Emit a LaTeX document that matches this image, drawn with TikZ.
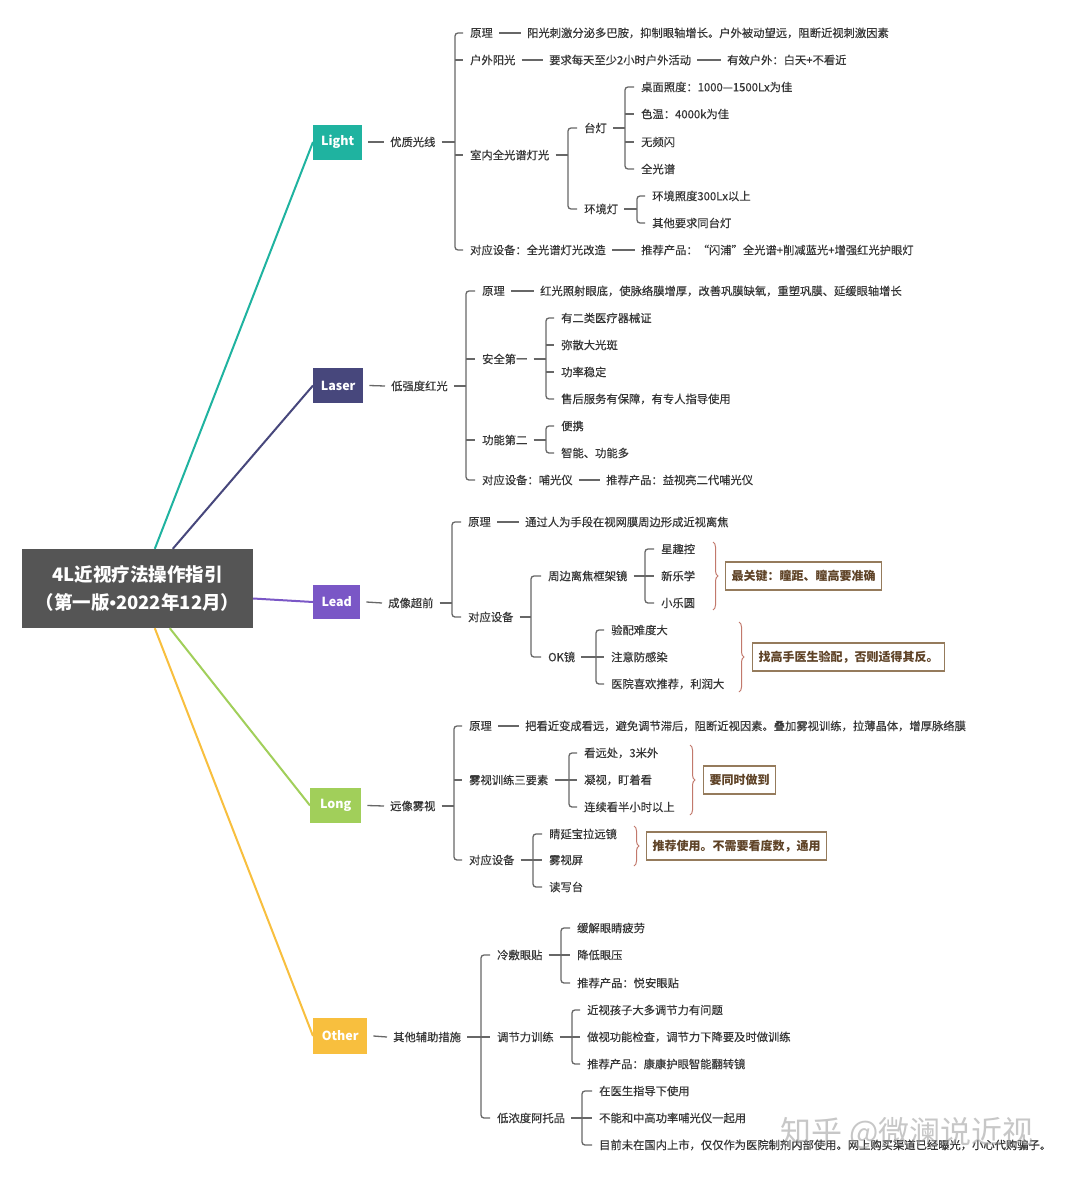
\documentclass[tikz,border=0pt]{standalone}
\usepackage{fontspec}
\setmainfont{Noto Sans CJK SC}
\newfontfamily\cjkmed[FakeBold=0.35]{Noto Sans CJK SC}
\newfontfamily\latbul{Liberation Sans}
\usetikzlibrary{decorations.pathreplacing}
\definecolor{txt}{HTML}{363636}
\definecolor{ln}{HTML}{676767}
\definecolor{rootc}{HTML}{555555}
\definecolor{cLight}{HTML}{1FB3A0}
\definecolor{cLaser}{HTML}{47477C}
\definecolor{cLead}{HTML}{7A57C6}
\definecolor{cLong}{HTML}{A1CF5A}
\definecolor{cOther}{HTML}{F8BF3E}
\definecolor{brc}{HTML}{C2796C}
\definecolor{notebd}{HTML}{957B5C}
\definecolor{notetx}{HTML}{5E4226}
\tikzset{
 tx/.style={anchor=west, inner sep=0pt, text=txt, font=\cjkmed\fontsize{11.3}{13}\selectfont},
 conn/.style={draw=ln, line width=1.3pt},
 cat/.style={anchor=west, minimum height=35pt, inner sep=0pt, text=white, font=\fontsize{12.5}{14}\selectfont\bfseries},
 brc/.style={draw=brc, line width=1pt, decorate, decoration={brace, amplitude=5pt}},
 note/.style={anchor=west, draw=notebd, line width=1.3pt, fill=white, minimum height=28pt, inner xsep=6pt, inner ysep=0pt, text=notetx, font=\fontsize{12}{14}\selectfont\bfseries},
 trunk/.style={line width=2pt},
}
\newcommand\mylnk[2]{\draw[conn] ([xshift=6pt]#1.east) -- ([xshift=-6pt]#2.west);}
\newcommand\mybrk[5]{%
 \draw[conn] ([xshift=6pt]#1.east) -- (#2,0 |- #1.east);
 \draw[conn, rounded corners=3pt] ([xshift=-7pt]#3.west) -- (#2,0 |- #3.west) -- (#2,0 |- #4.west) -- ([xshift=-7pt]#4.west);
 \foreach \nd in {#5} {\draw[conn] (#2,0 |- \nd.west) -- ([xshift=-7pt]\nd.west);}
}
\newcommand\mybrkk[4]{%
 \draw[conn] ([xshift=6pt]#1.east) -- (#2,0 |- #1.east);
 \draw[conn, rounded corners=3pt] ([xshift=-7pt]#3.west) -- (#2,0 |- #3.west) -- (#2,0 |- #4.west) -- ([xshift=-7pt]#4.west);
}
\begin{document}
\begin{tikzpicture}[x=1pt, y=-1pt]
\fill[white] (0,0) rectangle (1080,1178);
\useasboundingbox (0,0) rectangle (1080,1178);

% root
\node[fill=rootc, minimum width=231pt, minimum height=79pt, inner sep=0pt, text=white, align=center,
      font=\fontsize{18.5}{28}\selectfont\bfseries] (root) at (137.5,588.5)
      {4L近视疗法操作指引\\（第一版{\latbul\bfseries •}2022年12月）};

% category boxes
\node[cat, fill=cLight, minimum width=49pt] (light) at (313,142) {Light};
\node[cat, fill=cLaser, minimum width=50pt] (laser) at (313,385.5) {Laser};
\node[cat, fill=cLead, minimum width=47pt, minimum height=34pt] (lead) at (313,602) {Lead};
\node[cat, fill=cLong, minimum width=51pt] (long) at (310,805.5) {Long};
\node[cat, fill=cOther, minimum width=54pt, minimum height=36pt] (other) at (313,1036) {Other};

\draw[trunk, draw=cLight] ([xshift=133pt]root.north west) -- (light.west);
\draw[trunk, draw=cLaser] ([xshift=151pt]root.north west) -- (laser.west);
\draw[trunk, draw=cLead] ([yshift=-10pt]root.east) -- (lead.west);
\draw[trunk, draw=cLong] ([xshift=148pt]root.south west) -- (long.west);
\draw[trunk, draw=cOther] ([xshift=133pt]root.south west) -- (other.west);

% ===== Light =====
\node[tx] (l1) at (390,142) {优质光线};
\mylnk{light}{l1}
\node[tx] (la) at (470,33) {原理};
\node[tx] (la2) at (527,33) {阳光刺激分泌多巴胺，抑制眼轴增长。户外被动望远，阻断近视刺激因素};
\mylnk{la}{la2}
\node[tx] (lb) at (470,60) {户外阳光};
\node[tx] (lb2) at (549,60) {要求每天至少2小时户外活动};
\node[tx] (lb3) at (727,60) {有效户外：白天+不看近};
\mylnk{lb}{lb2}
\mylnk{lb2}{lb3}
\node[tx] (lc) at (470,155) {室内全光谱灯光};
\node[tx] (ld) at (470,250) {对应设备：全光谱灯光改造};
\node[tx] (ld2) at (641,250) {推荐产品：“闪浦”全光谱+削减蓝光+增强红光护眼灯};
\mylnk{ld}{ld2}
\mybrk{l1}{455}{la}{ld}{lb,lc}
\node[tx] (lc1) at (584,128) {台灯};
\node[tx] (lc2) at (584,209) {环境灯};
\mybrkk{lc}{568}{lc1}{lc2}
\node[tx] (lt1) at (641,87) {桌面照度：1000—1500Lx为佳};
\node[tx] (lt2) at (641,114) {色温：4000k为佳};
\node[tx] (lt3) at (641,142) {无频闪};
\node[tx] (lt4) at (641,169) {全光谱};
\mybrk{lc1}{625}{lt1}{lt4}{lt2,lt3}
\node[tx] (le1) at (652,196) {环境照度300Lx以上};
\node[tx] (le2) at (652,223) {其他要求同台灯};
\mybrkk{lc2}{637}{le1}{le2}

% ===== Laser =====
\node[tx] (r1) at (391,386) {低强度红光};
\mylnk{laser}{r1}
\node[tx] (ra) at (482,291) {原理};
\node[tx] (ra2) at (540,291) {红光照射眼底，使脉络膜增厚，改善巩膜缺氧，重塑巩膜、延缓眼轴增长};
\mylnk{ra}{ra2}
\node[tx] (rb) at (482,359) {安全第一};
\node[tx] (rc) at (482,440) {功能第二};
\node[tx] (rd) at (482,480) {对应设备：哺光仪};
\node[tx] (rd2) at (606,480) {推荐产品：益视亮二代哺光仪};
\mylnk{rd}{rd2}
\mybrk{r1}{466}{ra}{rd}{rb,rc}
\node[tx] (rb1) at (561,318) {有二类医疗器械证};
\node[tx] (rb2) at (561,345) {弥散大光斑};
\node[tx] (rb3) at (561,372) {功率稳定};
\node[tx] (rb4) at (561,399) {售后服务有保障，有专人指导使用};
\mybrk{rb}{546}{rb1}{rb4}{rb2,rb3}
\node[tx] (rc1) at (561,426) {便携};
\node[tx] (rc2) at (561,453) {智能、功能多};
\mybrkk{rc}{546}{rc1}{rc2}

% ===== Lead =====
\node[tx] (d1) at (388,603) {成像超前};
\mylnk{lead}{d1}
\node[tx] (da) at (468,522) {原理};
\node[tx] (da2) at (525,522) {通过人为手段在视网膜周边形成近视离焦};
\mylnk{da}{da2}
\node[tx] (db) at (468,617) {对应设备};
\mybrkk{d1}{452}{da}{db}
\node[tx] (db1) at (548,576) {周边离焦框架镜};
\node[tx] (db2) at (548,657) {OK镜};
\mybrkk{db}{531}{db1}{db2}
\node[tx] (dx1) at (661,549) {星趣控};
\node[tx] (dx2) at (661,576) {新乐学};
\node[tx] (dx3) at (661,603) {小乐圆};
\mybrk{db1}{645}{dx1}{dx3}{dx2}
\node[tx] (dk1) at (611,630) {验配难度大};
\node[tx] (dk2) at (611,657) {注意防感染};
\node[tx] (dk3) at (611,684) {医院喜欢推荐，利润大};
\mybrk{db2}{596}{dk1}{dk3}{dk2}
\draw[brc] (713,542) -- (713,610);
\node[note] (dn1) at (725,576) {最关键：瞳距、瞳高要准确};
\draw[brc] (739,622) -- (739,692);
\node[note] (dn2) at (752,657) {找高手医生验配，否则适得其反。};

% ===== Long =====
\node[tx] (g1) at (390,806) {远像雾视};
\mylnk{long}{g1}
\node[tx] (ga) at (469,726) {原理};
\node[tx] (ga2) at (525,726) {把看近变成看远，避免调节滞后，阻断近视因素。叠加雾视训练，拉薄晶体，增厚脉络膜};
\mylnk{ga}{ga2}
\node[tx] (gb) at (469,780) {雾视训练三要素};
\node[tx] (gc) at (469,860) {对应设备};
\mybrk{g1}{454}{ga}{gc}{gb}
\node[tx] (gb1) at (584,753) {看远处，3米外};
\node[tx] (gb2) at (584,780) {凝视，盯着看};
\node[tx] (gb3) at (584,807) {连续看半小时以上};
\mybrk{gb}{569}{gb1}{gb3}{gb2}
\node[tx] (gc1) at (549,834) {睛延宝拉远镜};
\node[tx] (gc2) at (549,860) {雾视屏};
\node[tx] (gc3) at (549,887) {读写台};
\mybrk{gc}{533}{gc1}{gc3}{gc2}
\draw[brc] (690,745) -- (690,815);
\node[note] (gn1) at (703,780) {要同时做到};
\draw[brc] (634,826) -- (634,866);
\node[note] (gn2) at (646,846) {推荐使用。不需要看度数，通用};

% ===== Other =====
\node[tx] (o1) at (393,1037) {其他辅助措施};
\mylnk{other}{o1}
\node[tx] (oa) at (497,955) {冷敷眼贴};
\node[tx] (ob) at (497,1037) {调节力训练};
\node[tx] (oc) at (497,1118) {低浓度阿托品};
\mybrk{o1}{481}{oa}{oc}{ob}
\node[tx] (oa1) at (577,928) {缓解眼睛疲劳};
\node[tx] (oa2) at (577,955) {降低眼压};
\node[tx] (oa3) at (577,983) {推荐产品：悦安眼贴};
\mybrk{oa}{561}{oa1}{oa3}{oa2}
\node[tx] (ob1) at (587,1010) {近视孩子大多调节力有问题};
\node[tx] (ob2) at (587,1037) {做视功能检查，调节力下降要及时做训练};
\node[tx] (ob3) at (587,1064) {推荐产品：康康护眼智能翻转镜};
\mybrk{ob}{572}{ob1}{ob3}{ob2}
\node[tx] (oc1) at (599,1091) {在医生指导下使用};
\node[tx] (oc2) at (599,1118) {不能和中高功率哺光仪一起用};
\node[tx] (oc3) at (599,1145) {目前未在国内上市，仅仅作为医院制剂内部使用。网上购买渠道已经曝光，小心代购骗子。};
\mybrk{oc}{582}{oc1}{oc3}{oc2}

% watermark
\node[inner sep=0pt, text=black!40, opacity=0.55, font=\fontsize{31}{33}\selectfont] (wm) at (907,1133) {知乎 @微澜说近视};
\end{tikzpicture}
\end{document}
